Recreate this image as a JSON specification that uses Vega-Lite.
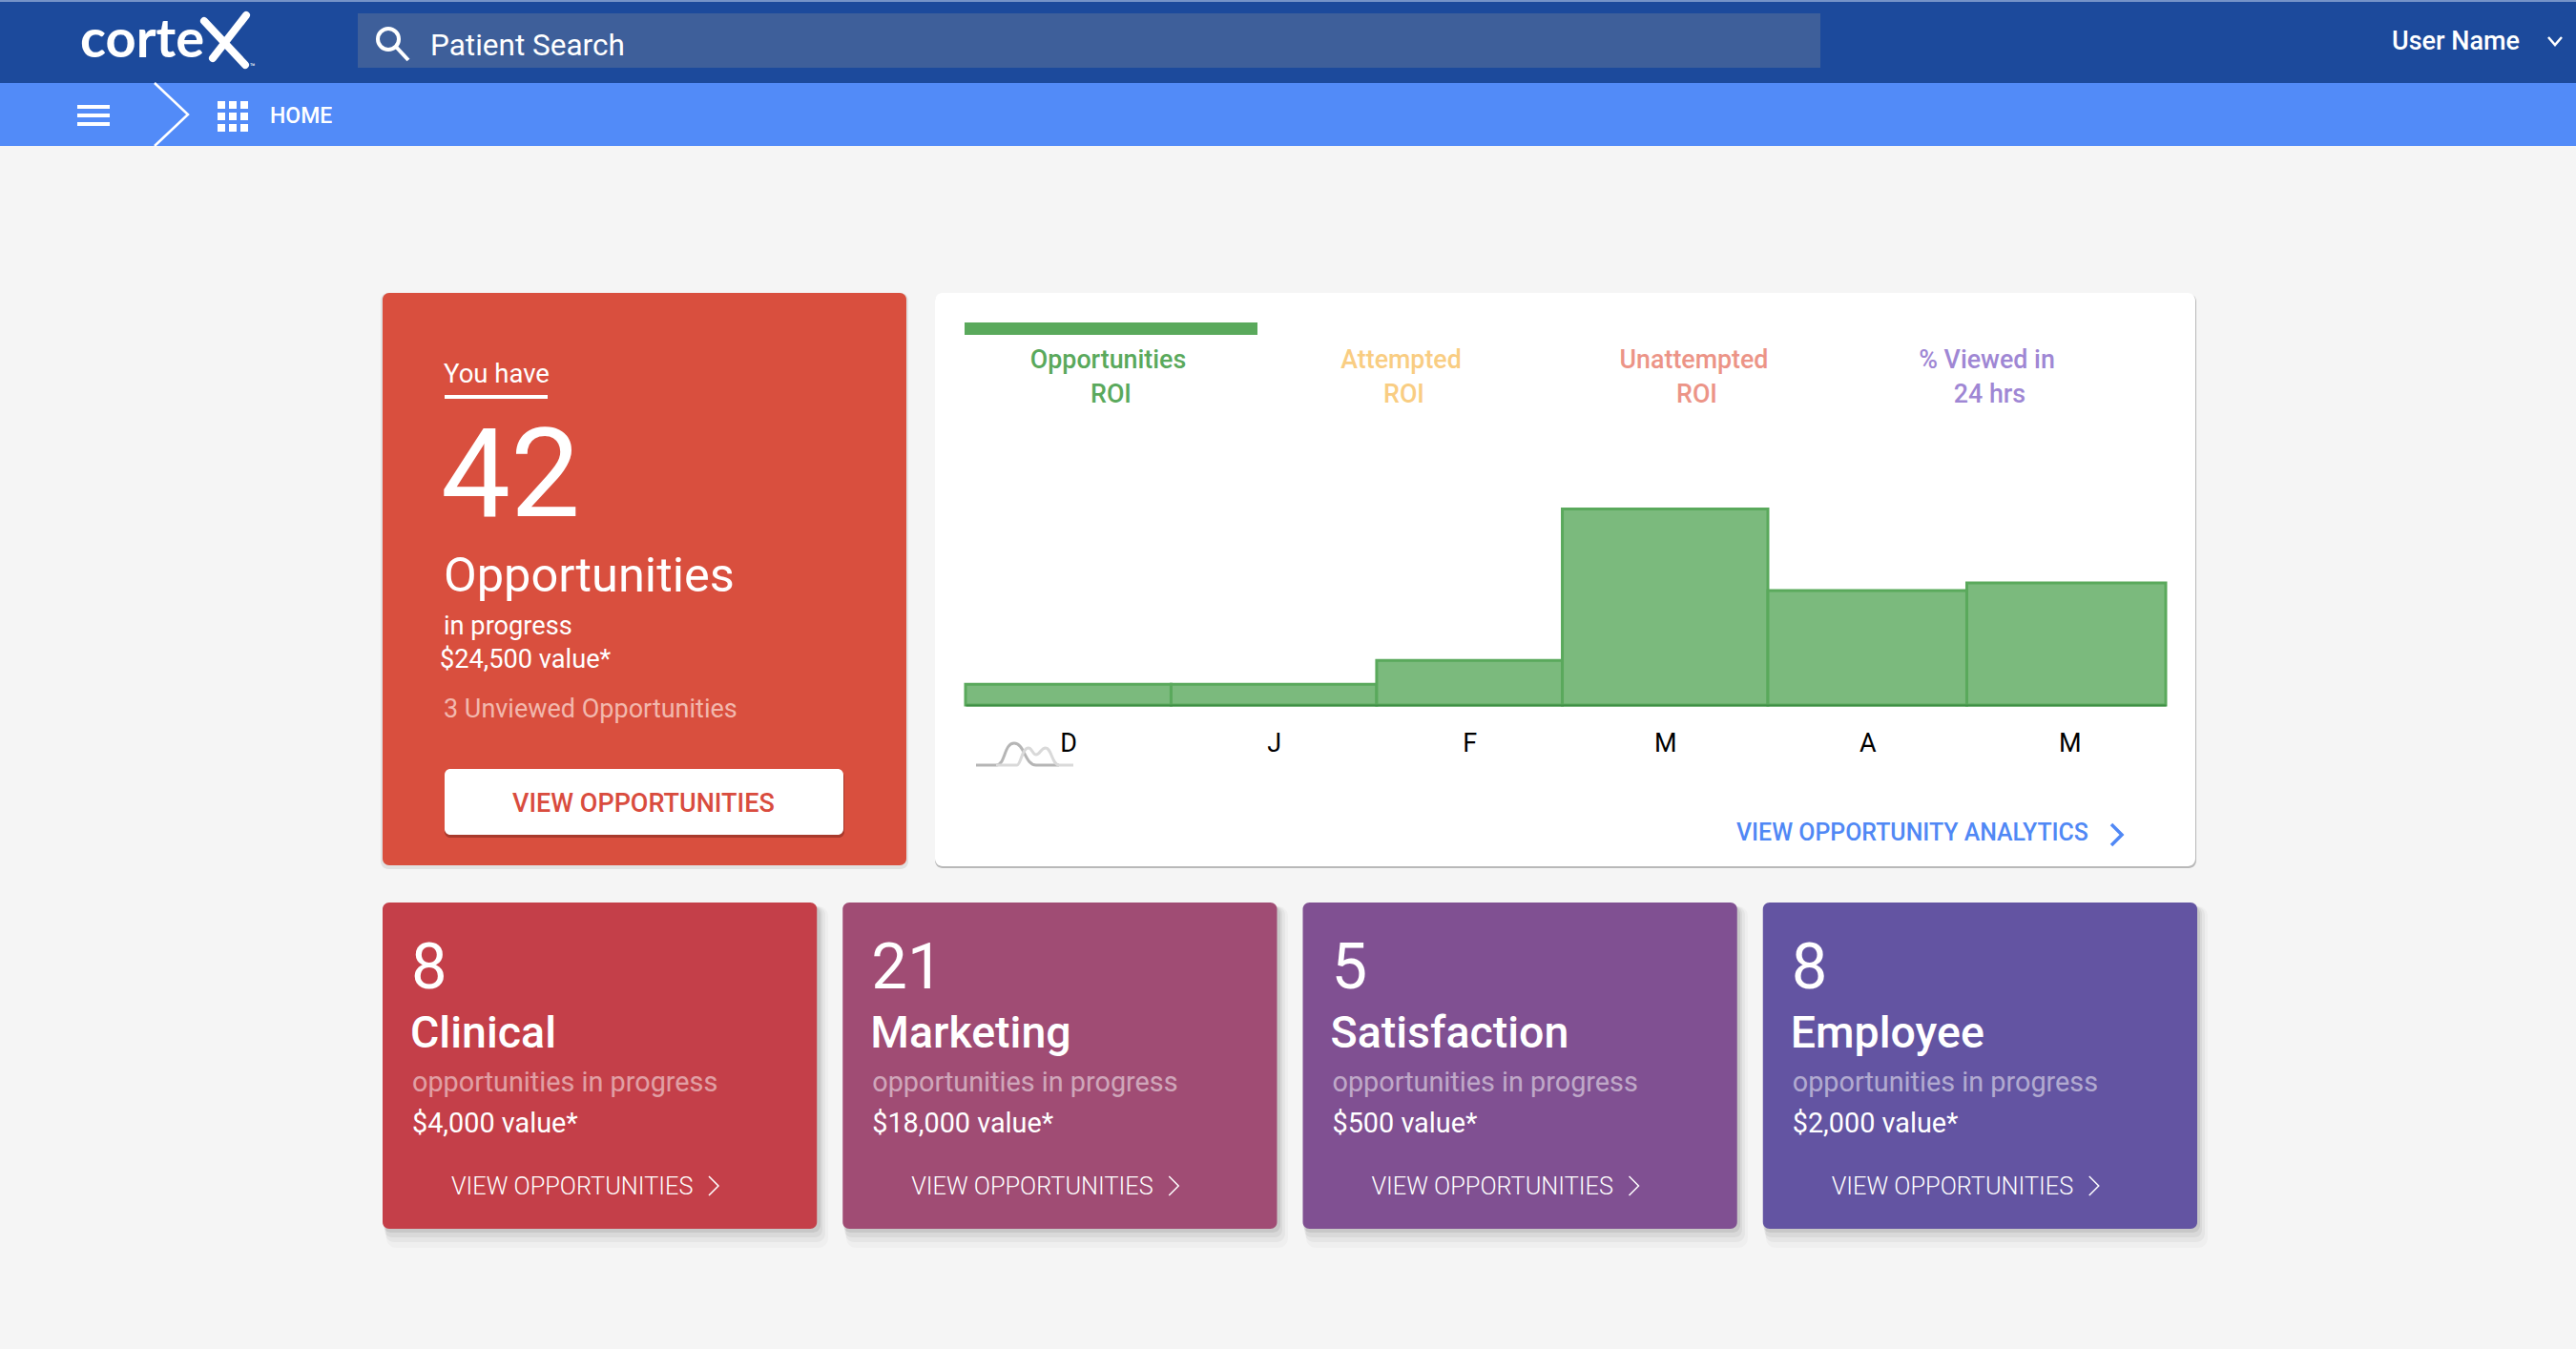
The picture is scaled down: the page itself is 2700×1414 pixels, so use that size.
{
  "$schema": "https://vega.github.io/schema/vega-lite/v6.json",
  "width": 2700,
  "height": 1414,
  "padding": 0,
  "autosize": {"type": "none"},
  "background": "#f5f5f5",
  "config": {
    "view": {"stroke": null},
    "axis": {"disable": true},
    "legend": {"disable": true},
    "text": {"font": "Roboto", "baseline": "alphabetic", "align": "left", "color": "#ffffff"}
  },
  "datasets": {
    "hero": [{"intro": "You have", "count": "42", "noun": "Opportunities", "status": "in progress", "value": "$24,500 value*", "unviewed": "3 Unviewed Opportunities", "cta": "VIEW OPPORTUNITIES"}],
    "cards": [
      {"card": "Clinical", "count": "8", "sub": "opportunities in progress", "value": "$4,000 value*", "cta": "VIEW OPPORTUNITIES"},
      {"card": "Marketing", "count": "21", "sub": "opportunities in progress", "value": "$18,000 value*", "cta": "VIEW OPPORTUNITIES"},
      {"card": "Satisfaction", "count": "5", "sub": "opportunities in progress", "value": "$500 value*", "cta": "VIEW OPPORTUNITIES"},
      {"card": "Employee", "count": "8", "sub": "opportunities in progress", "value": "$2,000 value*", "cta": "VIEW OPPORTUNITIES"}
    ],
    "tabs": [
      {"tab": "Opportunities", "line1": "Opportunities", "line2": "ROI"},
      {"tab": "Attempted", "line1": "Attempted", "line2": "ROI"},
      {"tab": "Unattempted", "line1": "Unattempted", "line2": "ROI"},
      {"tab": "Viewed", "line1": "% Viewed in", "line2": "24 hrs"}
    ],
    "months": [
      {"start": "2018-12-01", "end": "2019-01-01", "roi": 22},
      {"start": "2019-01-01", "end": "2019-02-01", "roi": 22},
      {"start": "2019-02-01", "end": "2019-03-01", "roi": 47},
      {"start": "2019-03-01", "end": "2019-04-01", "roi": 207},
      {"start": "2019-04-01", "end": "2019-05-01", "roi": 121},
      {"start": "2019-05-01", "end": "2019-05-31", "roi": 129}
    ]
  },
  "resolve": {"scale": {"x": "independent", "y": "independent", "color": "independent", "size": "independent"}},
  "layer": [
    {"data": {"values": [{"panel": "header"}]}, "mark": {"type": "rect", "color": "#1c4a9c"},
     "encoding": {"x": {"field": "panel", "type": "nominal", "scale": {"range": [0, 2700]}}, "y": {"field": "panel", "type": "nominal", "scale": {"range": [0, 87]}}}},
    {"data": {"values": [{"panel": "topline"}]}, "mark": {"type": "rect", "color": "#7593c8"},
     "encoding": {"x": {"field": "panel", "type": "nominal", "scale": {"range": [0, 2700]}}, "y": {"field": "panel", "type": "nominal", "scale": {"range": [0, 2]}}}},
    {"data": {"values": [{"panel": "nav"}]}, "mark": {"type": "rect", "color": "#528bf8"},
     "encoding": {"x": {"field": "panel", "type": "nominal", "scale": {"range": [0, 2700]}}, "y": {"field": "panel", "type": "nominal", "scale": {"range": [87, 153]}}}},
    {"data": {"values": [{"panel": "search"}]}, "mark": {"type": "rect", "color": "#3e5f9a"},
     "encoding": {"x": {"field": "panel", "type": "nominal", "scale": {"range": [375, 1908]}}, "y": {"field": "panel", "type": "nominal", "scale": {"range": [14, 71]}}}},
    {"data": {"values": [{"label": "corte"}]}, "mark": {"type": "text", "fontSize": 56, "fontWeight": 700, "font": "Lato"},
     "encoding": {"text": {"field": "label"}, "x": {"datum": "logo", "type": "nominal", "scale": {"type": "point", "range": [84, 84]}}, "y": {"datum": "logo", "type": "nominal", "scale": {"type": "point", "range": [60, 60]}}}},
    {"data": {"values": [{"icon": "logoX"}]}, "mark": {"type": "point", "size": 4, "opacity": 1, "stroke": "#ffffff", "strokeWidth": 8, "strokeCap": "round", "shape": "M-22,-20 L21,26 M22,-26 L-13,19"},
     "encoding": {"x": {"field": "icon", "type": "nominal", "scale": {"type": "point", "range": [236, 236]}}, "y": {"field": "icon", "type": "nominal", "scale": {"type": "point", "range": [42, 42]}}}},
    {"data": {"values": [{"label": "™"}]}, "mark": {"type": "text", "fontSize": 9},
     "encoding": {"text": {"field": "label"}, "x": {"datum": "a", "type": "nominal", "scale": {"type": "point", "range": [262, 262]}}, "y": {"datum": "a", "type": "nominal", "scale": {"type": "point", "range": [73, 73]}}}},
    {"data": {"values": [{"icon": "search"}]}, "mark": {"type": "point", "size": 4, "opacity": 1, "stroke": "#ffffff", "strokeWidth": 4, "shape": "M7,-5 A11,11 0 1 1 -15,-5 A11,11 0 1 1 7,-5 M4,3 L17,17"},
     "encoding": {"x": {"field": "icon", "type": "nominal", "scale": {"type": "point", "range": [411, 411]}}, "y": {"field": "icon", "type": "nominal", "scale": {"type": "point", "range": [46, 46]}}}},
    {"data": {"values": [{"label": "Patient Search"}]}, "mark": {"type": "text", "fontSize": 31.5},
     "encoding": {"text": {"field": "label"}, "x": {"datum": "a", "type": "nominal", "scale": {"type": "point", "range": [451, 451]}}, "y": {"datum": "a", "type": "nominal", "scale": {"type": "point", "range": [58, 58]}}}},
    {"data": {"values": [{"label": "User Name"}]}, "mark": {"type": "text", "fontSize": 27, "fontWeight": 500},
     "encoding": {"text": {"field": "label"}, "x": {"datum": "a", "type": "nominal", "scale": {"type": "point", "range": [2507, 2507]}}, "y": {"datum": "a", "type": "nominal", "scale": {"type": "point", "range": [52, 52]}}}},
    {"data": {"values": [{"icon": "menu"}]}, "mark": {"type": "point", "size": 4, "opacity": 1, "stroke": "#ffffff", "strokeWidth": 2.5, "shape": "M-7,-4 L0,4 L7,-4"},
     "encoding": {"x": {"field": "icon", "type": "nominal", "scale": {"type": "point", "range": [2678, 2678]}}, "y": {"field": "icon", "type": "nominal", "scale": {"type": "point", "range": [43, 43]}}}},
    {"data": {"values": [{"icon": "hamburger"}]}, "mark": {"type": "point", "size": 4, "opacity": 1, "filled": true, "color": "#ffffff", "shape": "M-17,-11 H17 V-7 H-17 Z M-17,-2 H17 V2 H-17 Z M-17,7 H17 V11 H-17 Z"},
     "encoding": {"x": {"field": "icon", "type": "nominal", "scale": {"type": "point", "range": [98, 98]}}, "y": {"field": "icon", "type": "nominal", "scale": {"type": "point", "range": [121, 121]}}}},
    {"data": {"values": [{"icon": "crumb"}]}, "mark": {"type": "point", "size": 4, "opacity": 1, "stroke": "#ffffff", "strokeWidth": 2.5, "shape": "M-18,-33 L17,0 L-18,33"},
     "encoding": {"x": {"field": "icon", "type": "nominal", "scale": {"type": "point", "range": [180, 180]}}, "y": {"field": "icon", "type": "nominal", "scale": {"type": "point", "range": [120, 120]}}}},
    {"data": {"values": [{"icon": "apps"}]}, "mark": {"type": "point", "size": 4, "opacity": 1, "filled": true, "color": "#ffffff", "shape": "M-16,-16 h8 v8 h-8 Z M-4,-16 h8 v8 h-8 Z M8,-16 h8 v8 h-8 Z M-16,-4 h8 v8 h-8 Z M-4,-4 h8 v8 h-8 Z M8,-4 h8 v8 h-8 Z M-16,8 h8 v8 h-8 Z M-4,8 h8 v8 h-8 Z M8,8 h8 v8 h-8 Z"},
     "encoding": {"x": {"field": "icon", "type": "nominal", "scale": {"type": "point", "range": [244, 244]}}, "y": {"field": "icon", "type": "nominal", "scale": {"type": "point", "range": [122, 122]}}}},
    {"data": {"values": [{"label": "HOME"}]}, "mark": {"type": "text", "fontSize": 23, "fontWeight": 500},
     "encoding": {"text": {"field": "label"}, "x": {"datum": "a", "type": "nominal", "scale": {"type": "point", "range": [283, 283]}}, "y": {"datum": "a", "type": "nominal", "scale": {"type": "point", "range": [129, 129]}}}},

    {"data": {"values": [{"panel": "heroShadow"}]}, "mark": {"type": "rect", "color": "#000000", "opacity": 0.08, "cornerRadius": 8},
     "encoding": {"x": {"field": "panel", "type": "nominal", "scale": {"range": [399, 952]}}, "y": {"field": "panel", "type": "nominal", "scale": {"range": [307, 911]}}}},
    {"data": {"values": [{"panel": "hero"}]}, "mark": {"type": "rect", "color": "#d94f3e", "cornerRadius": 7},
     "encoding": {"x": {"field": "panel", "type": "nominal", "scale": {"range": [401, 950]}}, "y": {"field": "panel", "type": "nominal", "scale": {"range": [307, 907]}}}},
    {"data": {"name": "hero"}, "mark": {"type": "text", "fontSize": 27.5},
     "encoding": {"text": {"field": "intro"}, "x": {"datum": "a", "type": "nominal", "scale": {"type": "point", "range": [465, 465]}}, "y": {"datum": "a", "type": "nominal", "scale": {"type": "point", "range": [401, 401]}}}},
    {"data": {"values": [{"panel": "underline"}]}, "mark": {"type": "rect", "color": "#ffffff"},
     "encoding": {"x": {"field": "panel", "type": "nominal", "scale": {"range": [466, 574]}}, "y": {"field": "panel", "type": "nominal", "scale": {"range": [414, 418]}}}},
    {"data": {"name": "hero"}, "mark": {"type": "text", "fontSize": 130, "fontWeight": 400},
     "encoding": {"text": {"field": "count"}, "x": {"datum": "a", "type": "nominal", "scale": {"type": "point", "range": [462, 462]}}, "y": {"datum": "a", "type": "nominal", "scale": {"type": "point", "range": [541, 541]}}}},
    {"data": {"name": "hero"}, "mark": {"type": "text", "fontSize": 50.5},
     "encoding": {"text": {"field": "noun"}, "x": {"datum": "a", "type": "nominal", "scale": {"type": "point", "range": [465, 465]}}, "y": {"datum": "a", "type": "nominal", "scale": {"type": "point", "range": [620, 620]}}}},
    {"data": {"name": "hero"}, "mark": {"type": "text", "fontSize": 27.2},
     "encoding": {"text": {"field": "status"}, "x": {"datum": "a", "type": "nominal", "scale": {"type": "point", "range": [465, 465]}}, "y": {"datum": "a", "type": "nominal", "scale": {"type": "point", "range": [665, 665]}}}},
    {"data": {"name": "hero"}, "mark": {"type": "text", "fontSize": 27.2},
     "encoding": {"text": {"field": "value"}, "x": {"datum": "a", "type": "nominal", "scale": {"type": "point", "range": [461, 461]}}, "y": {"datum": "a", "type": "nominal", "scale": {"type": "point", "range": [700, 700]}}}},
    {"data": {"name": "hero"}, "mark": {"type": "text", "fontSize": 27, "color": "#f2b8ad"},
     "encoding": {"text": {"field": "unviewed"}, "x": {"datum": "a", "type": "nominal", "scale": {"type": "point", "range": [465, 465]}}, "y": {"datum": "a", "type": "nominal", "scale": {"type": "point", "range": [752, 752]}}}},
    {"data": {"values": [{"panel": "buttonShadow"}]}, "mark": {"type": "rect", "color": "#a83a2c", "cornerRadius": 6},
     "encoding": {"x": {"field": "panel", "type": "nominal", "scale": {"range": [466, 885]}}, "y": {"field": "panel", "type": "nominal", "scale": {"range": [808, 878]}}}},
    {"data": {"values": [{"panel": "button"}]}, "mark": {"type": "rect", "color": "#ffffff", "cornerRadius": 6},
     "encoding": {"x": {"field": "panel", "type": "nominal", "scale": {"range": [466, 884]}}, "y": {"field": "panel", "type": "nominal", "scale": {"range": [806, 875]}}}},
    {"data": {"name": "hero"}, "mark": {"type": "text", "fontSize": 27, "fontWeight": 500, "color": "#d94c3e"},
     "encoding": {"text": {"field": "cta"}, "x": {"datum": "a", "type": "nominal", "scale": {"type": "point", "range": [537, 537]}}, "y": {"datum": "a", "type": "nominal", "scale": {"type": "point", "range": [851, 851]}}}},

    {"data": {"values": [{"panel": "chartShadow"}]}, "mark": {"type": "rect", "color": "#b8b8b8", "cornerRadius": 8},
     "encoding": {"x": {"field": "panel", "type": "nominal", "scale": {"range": [980, 2302]}}, "y": {"field": "panel", "type": "nominal", "scale": {"range": [308, 910]}}}},
    {"data": {"values": [{"panel": "chart"}]}, "mark": {"type": "rect", "color": "#ffffff", "cornerRadius": 8},
     "encoding": {"x": {"field": "panel", "type": "nominal", "scale": {"range": [980, 2301]}}, "y": {"field": "panel", "type": "nominal", "scale": {"range": [307, 908]}}}},
    {"data": {"values": [{"tab": "Opportunities"}]}, "mark": {"type": "rect", "color": "#5aa95c"},
     "encoding": {"x": {"field": "tab", "type": "nominal", "scale": {"range": [1011, 1318]}}, "y": {"field": "tab", "type": "nominal", "scale": {"range": [338, 351]}}}},
    {"data": {"name": "tabs"}, "mark": {"type": "text", "fontSize": 26.8, "fontWeight": 500, "align": "center"},
     "encoding": {"text": {"field": "line1"}, "x": {"field": "tab", "type": "nominal", "sort": null, "scale": {"type": "band", "range": [1008, 2236], "paddingInner": 0, "paddingOuter": 0}},
       "y": {"datum": "a", "type": "nominal", "scale": {"type": "point", "range": [386, 386]}},
       "color": {"field": "tab", "type": "nominal", "scale": {"domain": ["Opportunities", "Attempted", "Unattempted", "Viewed"], "range": ["#5aa95c", "#f9cd82", "#ec9487", "#9f87d4"]}}}},
    {"data": {"name": "tabs"}, "mark": {"type": "text", "fontSize": 26.8, "fontWeight": 500, "align": "center"},
     "encoding": {"text": {"field": "line2"}, "x": {"field": "tab", "type": "nominal", "sort": null, "scale": {"type": "band", "range": [1011, 2239], "paddingInner": 0, "paddingOuter": 0}},
       "y": {"datum": "a", "type": "nominal", "scale": {"type": "point", "range": [422, 422]}},
       "color": {"field": "tab", "type": "nominal", "scale": {"domain": ["Opportunities", "Attempted", "Unattempted", "Viewed"], "range": ["#5aa95c", "#f9cd82", "#ec9487", "#9f87d4"]}}}},
    {"data": {"name": "months"}, "mark": {"type": "rect", "color": "#7bba7d", "stroke": "#5aa95c", "strokeWidth": 3},
     "encoding": {
       "x": {"field": "start", "type": "temporal", "scale": {"type": "utc", "domain": ["2018-12-01", "2019-05-31"], "range": [1012, 2270]},
         "axis": {"disable": false, "orient": "bottom", "offset": -675, "values": [{"year": 2018, "month": 12, "date": 16, "hours": 12, "utc": true}, {"year": 2019, "month": 1, "date": 16, "hours": 12, "utc": true}, {"year": 2019, "month": 2, "date": 15, "utc": true}, {"year": 2019, "month": 3, "date": 16, "hours": 12, "utc": true}, {"year": 2019, "month": 4, "date": 16, "utc": true}, {"year": 2019, "month": 5, "date": 16, "hours": 12, "utc": true}],
           "labelExpr": "slice(utcFormat(datum.value, '%b'), 0, 1)", "title": null, "ticks": false, "grid": false, "domainColor": "#3f8f45", "domainWidth": 2, "labelFont": "Roboto", "labelFontSize": 27, "labelColor": "#000000", "labelAngle": 0, "labelAlign": "center", "labelBaseline": "alphabetic", "labelPadding": 48, "labelOverlap": false, "labelFlush": false, "zindex": 1}},
       "x2": {"field": "end"},
       "y": {"field": "roi", "type": "quantitative", "scale": {"domain": [0, 207], "range": [739, 533.5]}},
       "y2": {"datum": 0}}},
    {"data": {"values": [{"icon": "wave"}]}, "mark": {"type": "point", "size": 4, "opacity": 1, "stroke": "#b5b5b5", "strokeWidth": 3, "shape": "M-51,12 H-30 C-20,12 -22,-11 -11,-11 C0,-11 0,12 12,12 H36"},
     "encoding": {"x": {"field": "icon", "type": "nominal", "scale": {"type": "point", "range": [1074, 1074]}}, "y": {"field": "icon", "type": "nominal", "scale": {"type": "point", "range": [790, 790]}}}},
    {"data": {"values": [{"icon": "wave2"}]}, "mark": {"type": "point", "size": 4, "opacity": 1, "stroke": "#d9d9d9", "strokeWidth": 3, "shape": "M-30,12 H-8 C-4,12 -3,-6 4,-6 C8,-6 8,1 12,1 C16,1 17,-6 22,-6 C28,-6 29,12 36,12 H51"},
     "encoding": {"x": {"field": "icon", "type": "nominal", "scale": {"type": "point", "range": [1074, 1074]}}, "y": {"field": "icon", "type": "nominal", "scale": {"type": "point", "range": [790, 790]}}}},
    {"data": {"values": [{"label": "VIEW OPPORTUNITY ANALYTICS"}]}, "mark": {"type": "text", "fontSize": 24.9, "fontWeight": 500, "color": "#5088f5"},
     "encoding": {"text": {"field": "label"}, "x": {"datum": "a", "type": "nominal", "scale": {"type": "point", "range": [1820, 1820]}}, "y": {"datum": "a", "type": "nominal", "scale": {"type": "point", "range": [881, 881]}}}},
    {"data": {"values": [{"icon": "next"}]}, "mark": {"type": "point", "size": 4, "opacity": 1, "stroke": "#5088f5", "strokeWidth": 3.5, "shape": "M-5,-11 L6,0 L-5,11"},
     "encoding": {"x": {"field": "icon", "type": "nominal", "scale": {"type": "point", "range": [2218, 2218]}}, "y": {"field": "icon", "type": "nominal", "scale": {"type": "point", "range": [875, 875]}}}},

    {"data": {"name": "cards"}, "mark": {"type": "rect", "color": "#000000", "opacity": 0.025, "cornerRadius": 10},
     "encoding": {"x": {"field": "card", "type": "nominal", "sort": null, "scale": {"type": "band", "range": [405, 2314], "paddingInner": 0.0394, "paddingOuter": 0}}, "y": {"datum": "shadow", "type": "nominal", "scale": {"type": "band", "range": [950, 1308], "paddingInner": 0, "paddingOuter": 0}}}},
    {"data": {"name": "cards"}, "mark": {"type": "rect", "color": "#000000", "opacity": 0.04, "cornerRadius": 9},
     "encoding": {"x": {"field": "card", "type": "nominal", "sort": null, "scale": {"type": "band", "range": [404, 2311], "paddingInner": 0.0436, "paddingOuter": 0}}, "y": {"datum": "shadow", "type": "nominal", "scale": {"type": "band", "range": [950, 1302], "paddingInner": 0, "paddingOuter": 0}}}},
    {"data": {"name": "cards"}, "mark": {"type": "rect", "color": "#000000", "opacity": 0.05, "cornerRadius": 8},
     "encoding": {"x": {"field": "card", "type": "nominal", "sort": null, "scale": {"type": "band", "range": [403, 2308], "paddingInner": 0.0477, "paddingOuter": 0}}, "y": {"datum": "shadow", "type": "nominal", "scale": {"type": "band", "range": [950, 1297], "paddingInner": 0, "paddingOuter": 0}}}},
    {"data": {"name": "cards"}, "mark": {"type": "rect", "color": "#000000", "opacity": 0.08, "cornerRadius": 8},
     "encoding": {"x": {"field": "card", "type": "nominal", "sort": null, "scale": {"type": "band", "range": [402, 2306], "paddingInner": 0.0498, "paddingOuter": 0}}, "y": {"datum": "shadow", "type": "nominal", "scale": {"type": "band", "range": [950, 1292], "paddingInner": 0, "paddingOuter": 0}}}},
    {"data": {"name": "cards"}, "mark": {"type": "rect", "cornerRadius": 7},
     "encoding": {"x": {"field": "card", "type": "nominal", "sort": null, "scale": {"type": "band", "range": [401, 2303], "paddingInner": 0.056, "paddingOuter": 0}},
       "y": {"datum": "card", "type": "nominal", "scale": {"type": "band", "range": [946, 1288], "paddingInner": 0, "paddingOuter": 0}},
       "color": {"field": "card", "type": "nominal", "scale": {"domain": ["Clinical", "Marketing", "Satisfaction", "Employee"], "range": ["#c43f49", "#a04c74", "#805092", "#6354a2"]}}}},
    {"data": {"name": "cards"}, "mark": {"type": "text", "fontSize": 67, "fontWeight": 400, "dx": 30},
     "encoding": {"text": {"field": "count"}, "x": {"field": "card", "type": "nominal", "sort": null, "bandPosition": 0, "scale": {"type": "band", "range": [401, 2303], "paddingInner": 0.056, "paddingOuter": 0}}, "y": {"datum": "a", "type": "nominal", "scale": {"type": "point", "range": [1036, 1036]}}}},
    {"data": {"name": "cards"}, "mark": {"type": "text", "fontSize": 46.5, "fontWeight": 500, "dx": 29},
     "encoding": {"text": {"field": "card"}, "x": {"field": "card", "type": "nominal", "sort": null, "bandPosition": 0, "scale": {"type": "band", "range": [401, 2303], "paddingInner": 0.056, "paddingOuter": 0}}, "y": {"datum": "a", "type": "nominal", "scale": {"type": "point", "range": [1098, 1098]}}}},
    {"data": {"name": "cards"}, "mark": {"type": "text", "fontSize": 28.8, "dx": 31, "opacity": 0.5},
     "encoding": {"text": {"field": "sub"}, "x": {"field": "card", "type": "nominal", "sort": null, "bandPosition": 0, "scale": {"type": "band", "range": [401, 2303], "paddingInner": 0.056, "paddingOuter": 0}}, "y": {"datum": "a", "type": "nominal", "scale": {"type": "point", "range": [1144, 1144]}}}},
    {"data": {"name": "cards"}, "mark": {"type": "text", "fontSize": 28.8, "dx": 31},
     "encoding": {"text": {"field": "value"}, "x": {"field": "card", "type": "nominal", "sort": null, "bandPosition": 0, "scale": {"type": "band", "range": [401, 2303], "paddingInner": 0.056, "paddingOuter": 0}}, "y": {"datum": "a", "type": "nominal", "scale": {"type": "point", "range": [1187, 1187]}}}},
    {"data": {"name": "cards"}, "mark": {"type": "text", "fontSize": 25.3, "fontWeight": 300, "dx": 72},
     "encoding": {"text": {"field": "cta"}, "x": {"field": "card", "type": "nominal", "sort": null, "bandPosition": 0, "scale": {"type": "band", "range": [401, 2303], "paddingInner": 0.056, "paddingOuter": 0}}, "y": {"datum": "a", "type": "nominal", "scale": {"type": "point", "range": [1252, 1252]}}}},
    {"data": {"name": "cards"}, "mark": {"type": "point", "size": 4, "opacity": 1, "stroke": "#ffffff", "strokeWidth": 1.5, "shape": "M-5,-10 L5,0 L-5,10"},
     "encoding": {"x": {"field": "card", "type": "nominal", "sort": null, "bandPosition": 0, "scale": {"type": "band", "range": [748, 2650], "paddingInner": 0.056, "paddingOuter": 0}}, "y": {"datum": "a", "type": "nominal", "scale": {"type": "point", "range": [1243, 1243]}}}}
  ]
}
